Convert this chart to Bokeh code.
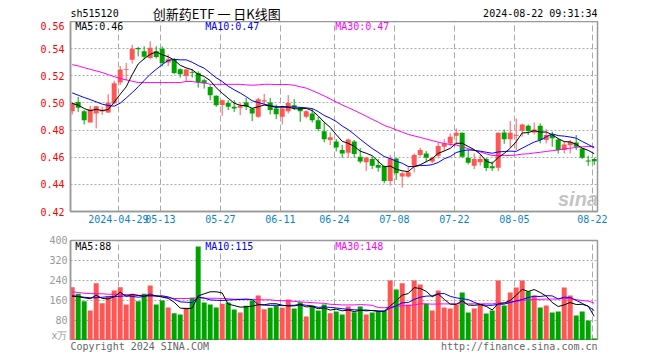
import numpy as np
from bokeh.plotting import figure
from bokeh.layouts import column
from bokeh.models import Range1d, FixedTicker, Label, ColumnDataSource
from bokeh.embed import file_html
from bokeh.resources import INLINE

# ---------------- data ----------------
opens = [0.4939, 0.5007, 0.4939, 0.4856, 0.4922, 0.4937, 0.4930, 0.4998, 0.5150, 0.5243,
         0.5319, 0.5405, 0.5380, 0.5331, 0.5380, 0.5400, 0.5297, 0.5321, 0.5248, 0.5199,
         0.5225, 0.5221, 0.5167, 0.5118, 0.5052, 0.4984, 0.5000, 0.4971, 0.4964, 0.5003,
         0.4959, 0.4898, 0.5010, 0.5003, 0.4959, 0.4898, 0.4939, 0.4983, 0.4964, 0.4898,
         0.4922, 0.4873, 0.4792, 0.4726, 0.4716, 0.4653, 0.4633, 0.4716, 0.4604, 0.4562,
         0.4587, 0.4543, 0.4535, 0.4425, 0.4591, 0.4457, 0.4457, 0.4538, 0.4616, 0.4628,
         0.4569, 0.4611, 0.4677, 0.4701, 0.4758, 0.4780, 0.4596, 0.4538, 0.4562, 0.4587,
         0.4533, 0.4523, 0.4782, 0.4733, 0.4757, 0.4795, 0.4832, 0.4783, 0.4832, 0.4726,
         0.4768, 0.4731, 0.4653, 0.4689, 0.4709, 0.4665, 0.4573, 0.4587]
highs = [0.5007, 0.5045, 0.4947, 0.4979, 0.4976, 0.4972, 0.5064, 0.5163, 0.5272, 0.5294,
         0.5429, 0.5413, 0.5417, 0.5454, 0.5417, 0.5417, 0.5358, 0.5331, 0.5255, 0.5252,
         0.5248, 0.5233, 0.5179, 0.5130, 0.5057, 0.5025, 0.5020, 0.5020, 0.5000, 0.5037,
         0.4961, 0.5037, 0.5066, 0.5037, 0.4988, 0.4979, 0.5057, 0.5028, 0.4971, 0.4947,
         0.4959, 0.4898, 0.4856, 0.4783, 0.4734, 0.4690, 0.4738, 0.4726, 0.4667, 0.4604,
         0.4604, 0.4587, 0.4538, 0.4616, 0.4596, 0.4494, 0.4530, 0.4628, 0.4670, 0.4645,
         0.4604, 0.4709, 0.4733, 0.4775, 0.4812, 0.4782, 0.4653, 0.4628, 0.4621, 0.4596,
         0.4569, 0.4782, 0.4805, 0.4866, 0.4885, 0.4846, 0.4841, 0.4856, 0.4849, 0.4807,
         0.4788, 0.4738, 0.4714, 0.4726, 0.4763, 0.4667, 0.4611, 0.4596]
lows = [0.4915, 0.4934, 0.4841, 0.4856, 0.4812, 0.4912, 0.4925, 0.4990, 0.5132, 0.5167,
        0.5290, 0.5343, 0.5320, 0.5320, 0.5327, 0.5270, 0.5272, 0.5211, 0.5187, 0.5155,
        0.5187, 0.5113, 0.5106, 0.5020, 0.4971, 0.4905, 0.4947, 0.4934, 0.4910, 0.4947,
        0.4866, 0.4890, 0.4984, 0.4915, 0.4880, 0.4841, 0.4922, 0.4947, 0.4861, 0.4886,
        0.4856, 0.4792, 0.4709, 0.4690, 0.4643, 0.4596, 0.4596, 0.4596, 0.4555, 0.4498,
        0.4513, 0.4494, 0.4408, 0.4391, 0.4432, 0.4376, 0.4450, 0.4489, 0.4604, 0.4562,
        0.4555, 0.4591, 0.4645, 0.4682, 0.4694, 0.4596, 0.4547, 0.4513, 0.4538, 0.4498,
        0.4498, 0.4498, 0.4699, 0.4670, 0.4653, 0.4751, 0.4763, 0.4768, 0.4702, 0.4702,
        0.4677, 0.4628, 0.4628, 0.4628, 0.4653, 0.4587, 0.4537, 0.4542]
closes = [0.5000, 0.4964, 0.4873, 0.4954, 0.4976, 0.4950, 0.5002, 0.5145, 0.5247, 0.5247,
          0.5400, 0.5395, 0.5340, 0.5407, 0.5339, 0.5294, 0.5321, 0.5221, 0.5211, 0.5246,
          0.5222, 0.5155, 0.5143, 0.5057, 0.4983, 0.5020, 0.4971, 0.4959, 0.4979, 0.4971,
          0.4922, 0.5028, 0.5020, 0.4947, 0.4917, 0.4959, 0.5000, 0.4964, 0.4939, 0.4939,
          0.4873, 0.4807, 0.4733, 0.4748, 0.4672, 0.4628, 0.4731, 0.4623, 0.4569, 0.4596,
          0.4538, 0.4523, 0.4425, 0.4591, 0.4481, 0.4481, 0.4489, 0.4616, 0.4653, 0.4596,
          0.4596, 0.4682, 0.4701, 0.4751, 0.4780, 0.4604, 0.4560, 0.4587, 0.4587, 0.4520,
          0.4518, 0.4780, 0.4733, 0.4780, 0.4760, 0.4841, 0.4793, 0.4805, 0.4726, 0.4763,
          0.4739, 0.4653, 0.4694, 0.4714, 0.4677, 0.4596, 0.4571, 0.4571]
volumes = [213, 187, 157, 120, 229, 149, 176, 200, 213, 144,
           187, 157, 187, 220, 144, 160, 132, 109, 104, 131,
           171, 376, 152, 144, 132, 147, 152, 124, 112, 139,
           160, 180, 125, 131, 139, 131, 164, 128, 153, 96,
           139, 120, 144, 109, 116, 104, 136, 113, 136, 104,
           112, 115, 120, 240, 204, 229, 144, 240, 224, 147,
           120, 200, 132, 128, 144, 192, 112, 128, 143, 108,
           120, 240, 140, 192, 212, 240, 196, 180, 132, 140,
           112, 116, 212, 180, 100, 116, 80, 8]

# moving-average values at the left edge (history before the window)
ma5_head = [0.4996, 0.4984, 0.4959, 0.4942]
ma10_head = [0.5074, 0.5057, 0.5040, 0.5025, 0.5008, 0.4991, 0.4981, 0.4976, 0.4998]
ma30_head = [0.5282, 0.5273, 0.5260, 0.5248, 0.5236, 0.5224, 0.5209, 0.5194, 0.5180, 0.5170,
             0.5160, 0.5150, 0.5150, 0.5150, 0.5150, 0.5150, 0.5150, 0.5150, 0.5150, 0.5158,
             0.5158, 0.5150, 0.5150, 0.5137, 0.5137, 0.5137, 0.5137, 0.5137, 0.5137]
vma5_head = [177, 176, 171, 167]
vma10_head = [179, 176, 173, 171, 171, 173, 175, 176, 177]
vma30_head = [195, 192, 189, 188, 187, 187, 185, 185, 184, 184,
              183, 181, 180, 179, 177, 176, 171, 168, 168, 168,
              169, 171, 169, 169, 169, 168, 167, 165, 165]

tick_index = [8, 15, 25, 35, 44, 54, 64, 74, 87]
tick_labels = ["2024-04-29", "05-13", "05-27", "06-11", "06-24", "07-08", "07-22", "08-05", "08-22"]
price_ticks = [0.42, 0.44, 0.46, 0.48, 0.50, 0.52, 0.54, 0.56]
vol_ticks = [0, 80, 160, 240, 320, 400]

code = "sh515120"
title_txt = "创新药ETF 一 日K线图"
stamp = "2024-08-22 09:31:34"
ma_price_txt = ["MA5:0.46", "MA10:0.47", "MA30:0.47"]
ma_vol_txt = ["MA5:88", "MA10:115", "MA30:148"]
copy_left = "Copyright 2024 SINA.COM"
copy_right = "http://finance.sina.com.cn"

# ---------------- helpers ----------------
def moving_avg(vals, n, head):
    v = np.asarray(vals, dtype=float)
    out = list(head)
    for i in range(n - 1, len(v)):
        out.append(v[i - n + 1:i + 1].mean())
    return out

N = len(closes)
idx = list(range(N))
UP = "#ff5555"
DN = "#00a400"
is_up = [c >= o for o, c in zip(opens, closes)]
colors = [UP if u else DN for u in is_up]
MIN_BODY = 0.0006
body_top = [max(o, c) if abs(c - o) >= MIN_BODY else (o + c) / 2 + MIN_BODY / 2 for o, c in zip(opens, closes)]
body_bot = [min(o, c) if abs(c - o) >= MIN_BODY else (o + c) / 2 - MIN_BODY / 2 for o, c in zip(opens, closes)]

src = ColumnDataSource(dict(x=idx, high=highs, low=lows, top=body_top, bottom=body_bot,
                            color=colors, vol=volumes))

MONO = "DejaVu Sans Mono"
GRID_SHIFT = -0.3
xticks = [round(i + GRID_SHIFT, 2) for i in tick_index]
xr = Range1d(-0.28, 87.55)
FW = 527
BL = 70
BR = 10


def text_strip(height):
    f = figure(frame_width=FW, frame_height=height, x_range=xr, y_range=Range1d(0, height),
               output_backend="svg", toolbar_location=None,
               min_border_left=BL, min_border_right=BR, min_border_top=0, min_border_bottom=0)
    f.axis.visible = False
    f.grid.visible = False
    f.outline_line_color = None
    return f

# ---------------- header strip (21 px tall, y counted in px from its bottom) ----------------
HEAD_H = 21
head = text_strip(HEAD_H)
head.add_layout(Label(x=xr.start, y=HEAD_H - 12.5, text=code, text_font=MONO, text_font_size="10px",
                      text_color="#000000", text_baseline="middle", text_align="left"))
head.add_layout(Label(x=24.1, y=HEAD_H - 12.5, text=title_txt, text_font="Noto Sans CJK SC",
                      text_font_size="13px", text_color="#000000", text_baseline="middle", text_align="center"))
head.add_layout(Label(x=xr.end, y=HEAD_H - 12.5, text=stamp, text_font=MONO, text_font_size="10px",
                      text_color="#000000", text_baseline="middle", text_align="right"))

# ---------------- price panel ----------------
p1 = figure(frame_width=FW, frame_height=190, x_range=xr, y_range=Range1d(0.42, 0.56),
            output_backend="svg", toolbar_location=None,
            min_border_left=BL, min_border_right=BR, min_border_top=0, min_border_bottom=19)
p1.segment(x0="x", x1="x", y0="low", y1="high", line_color="color", line_width=1, source=src)
p1.vbar(x="x", width=0.83, top="top", bottom="bottom", fill_color="color", line_color=None, source=src)
p1.line(idx, moving_avg(closes, 30, ma30_head), line_color="#ff00ff", line_width=1)
p1.line(idx, moving_avg(closes, 10, ma10_head), line_color="#0000ff", line_width=1)
p1.line(idx, moving_avg(closes, 5, ma5_head), line_color="#000000", line_width=1)

p1.xaxis.ticker = FixedTicker(ticks=xticks)
p1.xaxis.major_label_overrides = {t: l for t, l in zip(xticks, tick_labels)}
p1.xgrid.ticker = FixedTicker(ticks=xticks)
p1.yaxis.ticker = FixedTicker(ticks=price_ticks)
p1.yaxis.major_label_overrides = {t: "%.2f" % t for t in price_ticks}
p1.ygrid.ticker = FixedTicker(ticks=price_ticks)

for ax in (p1.xaxis[0], p1.yaxis[0]):
    ax.axis_line_color = "#999999"
    ax.axis_line_width = 1.5
    ax.major_tick_out = 0
    ax.major_tick_in = 0
    ax.minor_tick_out = 0
    ax.minor_tick_in = 0
    ax.major_label_text_font = MONO
    ax.major_label_text_font_size = "10px"
p1.xaxis.major_label_text_color = "#0a84c8"
p1.xaxis.major_label_standoff = 3
p1.yaxis.major_label_text_color = "#ff0000"
p1.yaxis.major_label_standoff = 6
p1.xgrid.grid_line_color = "#aaaaaa"
p1.xgrid.grid_line_dash = "6 3"
p1.ygrid.grid_line_color = "#aaaaaa"
p1.ygrid.grid_line_dash = "2 2"
p1.outline_line_color = "#999999"
p1.outline_line_width = 1.5

PX1 = 0.14 / 190.0  # price per pixel
top1 = 0.56
for xx, txt, col in zip([0.5, 22.17, 43.83], ma_price_txt, ["#000000", "#0000ff", "#ff00ff"]):
    p1.add_layout(Label(x=xx, y=top1 - 5.3 * PX1, text=txt, text_font=MONO, text_font_size="10px",
                        text_color=col, text_baseline="middle", text_align="left"))
p1.add_layout(Label(x=84.3, y=0.42 + 13 * PX1, text="sina", text_font="Liberation Sans",
                    text_font_style="bold italic", text_font_size="20px", text_color="#b4b4b4",
                    text_alpha=0.8, text_baseline="middle", text_align="center"))

# ---------------- volume panel ----------------
p2 = figure(frame_width=FW, frame_height=100, x_range=xr, y_range=Range1d(0, 400),
            output_backend="svg", toolbar_location=None,
            min_border_left=BL, min_border_right=BR, min_border_top=10, min_border_bottom=0)
p2.vbar(x="x", width=0.83, top="vol", bottom=0, fill_color="color", line_color=None, source=src)
p2.line(idx, moving_avg(volumes, 30, vma30_head), line_color="#ff00ff", line_width=1)
p2.line(idx, moving_avg(volumes, 10, vma10_head), line_color="#0000ff", line_width=1)
p2.line(idx, moving_avg(volumes, 5, vma5_head), line_color="#000000", line_width=1)

p2.xaxis.visible = False
p2.xgrid.ticker = FixedTicker(ticks=xticks)
p2.yaxis.ticker = FixedTicker(ticks=vol_ticks)
p2.yaxis.major_label_overrides = {t: (str(t) if t else "x万") for t in vol_ticks}
p2.ygrid.ticker = FixedTicker(ticks=vol_ticks)
ax = p2.yaxis[0]
ax.axis_line_color = "#999999"
ax.axis_line_width = 1.5
ax.major_tick_out = 0
ax.major_tick_in = 0
ax.minor_tick_out = 0
ax.minor_tick_in = 0
ax.major_label_text_font = MONO
ax.major_label_text_font_size = "10px"
ax.major_label_text_color = "#999999"
ax.major_label_standoff = 3
p2.xgrid.grid_line_color = "#aaaaaa"
p2.xgrid.grid_line_dash = "6 3"
p2.ygrid.grid_line_color = "#aaaaaa"
p2.ygrid.grid_line_dash = "2 2"
p2.outline_line_color = "#999999"
p2.outline_line_width = 1.5

PX2 = 400 / 100.0
for xx, txt, col in zip([0.5, 22.17, 43.83], ma_vol_txt, ["#000000", "#0000ff", "#ff00ff"]):
    p2.add_layout(Label(x=xx, y=400 - 6.3 * PX2, text=txt, text_font=MONO, text_font_size="10px",
                        text_color=col, text_baseline="middle", text_align="left"))

# ---------------- footer strip ----------------
FOOT_H = 14
foot = text_strip(FOOT_H)
foot.add_layout(Label(x=xr.start, y=FOOT_H - 6, text=copy_left, text_font=MONO,
                      text_font_size="10px", text_color="#666666", text_baseline="middle", text_align="left"))
foot.add_layout(Label(x=xr.end, y=FOOT_H - 6, text=copy_right, text_font=MONO,
                      text_font_size="10px", text_color="#666666", text_baseline="middle", text_align="right"))

layout = column(head, p1, p2, foot, spacing=0)
open("out.html", "w").write(file_html(layout, INLINE))
